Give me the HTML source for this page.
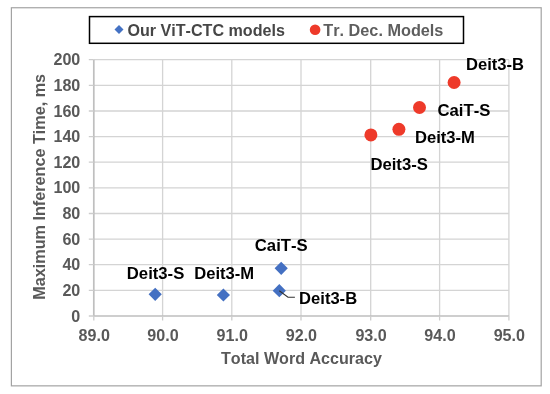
<!DOCTYPE html>
<html><head><meta charset="utf-8">
<style>
html,body{margin:0;padding:0;background:#fff;}
svg{display:block;font-family:"Liberation Sans",Arial,sans-serif;font-weight:bold;font-kerning:none;}
.ax{fill:#595959;font-size:16.1px;}
.dl{fill:#000;font-size:15.9px;}
</style></head><body>
<svg width="550" height="394" viewBox="0 0 550 394">
<rect x="0" y="0" width="550" height="394" fill="#fff"/>
<rect x="11.4" y="7.75" width="529.8" height="378.1" fill="#fff" stroke="#a3a3a3" stroke-width="1.2"/>
<g stroke="#d4d4d4" stroke-width="1.3" fill="none">
<path d="M93.8 290.4H508.9M93.8 264.7H508.9M93.8 239.1H508.9M93.8 213.5H508.9M93.8 187.8H508.9M93.8 162.2H508.9M93.8 136.6H508.9M93.8 111.0H508.9M93.8 85.3H508.9M93.8 59.7H508.9"/>
<path d="M162.6 59.7V316.0M231.8 59.7V316.0M301.0 59.7V316.0M370.7 59.7V316.0M439.6 59.7V316.0M508.9 59.7V316.0"/>
</g>
<g stroke="#bfbfbf" stroke-width="1.7" fill="none">
<path d="M93.8 59.7V316.0M93.8 316.0H508.9"/>
</g>
<g stroke="#cdcdcd" stroke-width="1.3" fill="none">
<path d="M93.8 316.0V320.6M88.8 316.0H93.8"/>
<path d="M88.8 290.4H93.8M88.8 264.7H93.8M88.8 239.1H93.8M88.8 213.5H93.8M88.8 187.8H93.8M88.8 162.2H93.8M88.8 136.6H93.8M88.8 111.0H93.8M88.8 85.3H93.8M88.8 59.7H93.8"/>
<path d="M162.6 316.0V320.6M231.8 316.0V320.6M301.0 316.0V320.6M370.7 316.0V320.6M439.6 316.0V320.6M508.9 316.0V320.6"/>
</g>
<g class="ax" text-anchor="end">
<text x="80.3" y="321.5">0</text>
<text x="80.3" y="295.9">20</text>
<text x="80.3" y="270.2">40</text>
<text x="80.3" y="244.6">60</text>
<text x="80.3" y="219.0">80</text>
<text x="80.3" y="193.3">100</text>
<text x="80.3" y="167.7">120</text>
<text x="80.3" y="142.1">140</text>
<text x="80.3" y="116.5">160</text>
<text x="80.3" y="90.8">180</text>
<text x="80.3" y="65.2">200</text>
</g>
<g class="ax" text-anchor="middle">
<text x="94.2" y="341">89.0</text>
<text x="163.0" y="341">90.0</text>
<text x="232.2" y="341">91.0</text>
<text x="301.4" y="341">92.0</text>
<text x="371.1" y="341">93.0</text>
<text x="440.0" y="341">94.0</text>
<text x="509.3" y="341">95.0</text>
<text x="301.5" y="363.5">Total Word Accuracy</text>
<text transform="translate(44.9 186.8) rotate(-90)" x="0" y="0" font-size="16.2">Maximum Inference Time, ms</text>
</g>
<rect x="89.5" y="16.6" width="374" height="26.7" fill="#fff" stroke="#000" stroke-width="1.5"/>
<path d="M119 24.9L123.5 29.4 119 33.9 114.5 29.4Z" fill="#4472c4"/>
<text x="127.5" y="35.6" font-size="16.1" fill="#464646">Our ViT-CTC models</text>
<circle cx="315.1" cy="29.8" r="5.3" fill="#ee3a2a"/>
<text x="323.3" y="35.7" font-size="16.25" fill="#5e5e5e">Tr. Dec. Models</text>
<path fill="#4470c2" d="M155.2 287.7L161.79999999999998 294.3 155.2 300.90000000000003 148.6 294.3ZM223.4 288.4L230.0 295.0 223.4 301.6 216.8 295.0ZM281.2 261.7L287.8 268.3 281.2 274.90000000000003 274.59999999999997 268.3ZM279.3 284.09999999999997L285.90000000000003 290.7 279.3 297.3 272.7 290.7Z"/>
<path d="M279.3 290.7L288 297.3H294.9" stroke="#333" stroke-width="1.1" fill="none"/>
<g fill="#ee3a2a">
<circle cx="454.1" cy="82.5" r="6.5"/>
<circle cx="419.5" cy="107.5" r="6.5"/>
<circle cx="398.9" cy="129.3" r="6.5"/>
<circle cx="370.9" cy="134.9" r="6.5"/>
</g>
<g class="dl" lengthAdjust="spacingAndGlyphs">
<text x="126.8" y="278.8" textLength="57.5" lengthAdjust="spacingAndGlyphs">Deit3-S</text>
<text x="194.2" y="278.8" textLength="59.9" lengthAdjust="spacingAndGlyphs">Deit3-M</text>
<text x="254.8" y="250.9" textLength="52.9" lengthAdjust="spacingAndGlyphs">CaiT-S</text>
<text x="299.1" y="303.6" textLength="58.0" lengthAdjust="spacingAndGlyphs">Deit3-B</text>
<text x="466" y="70.3" textLength="58.0" lengthAdjust="spacingAndGlyphs">Deit3-B</text>
<text x="437.5" y="115.7" textLength="52.9" lengthAdjust="spacingAndGlyphs">CaiT-S</text>
<text x="415" y="143.3" textLength="59.9" lengthAdjust="spacingAndGlyphs">Deit3-M</text>
<text x="370.4" y="170.0" textLength="57.5" lengthAdjust="spacingAndGlyphs">Deit3-S</text>
</g>
</svg>
</body></html>
